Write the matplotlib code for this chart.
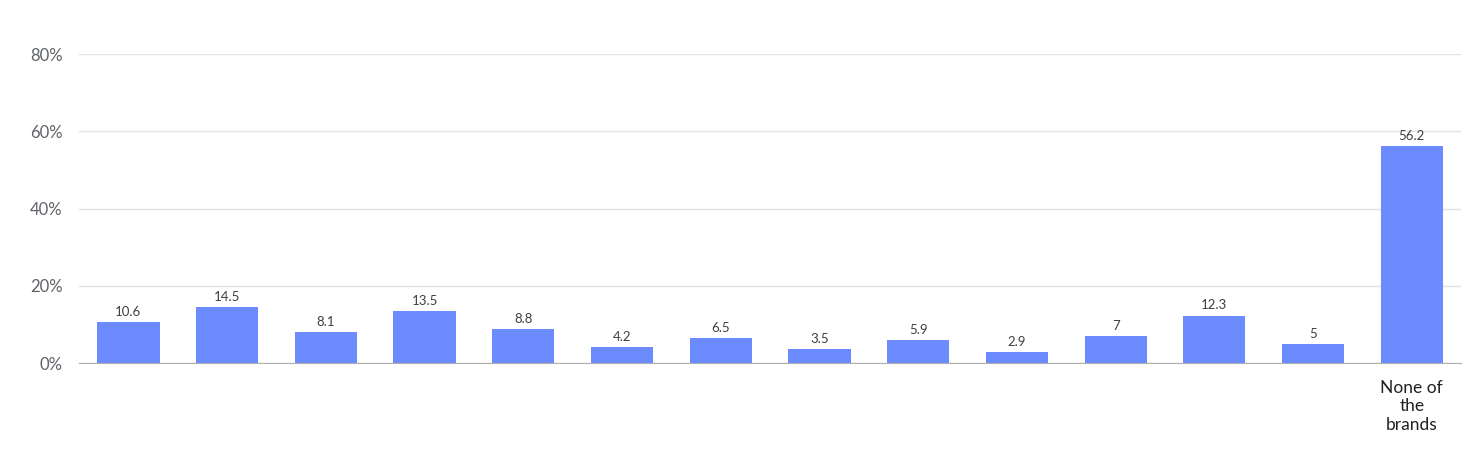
import matplotlib
matplotlib.use('Agg')
import matplotlib.pyplot as plt
from matplotlib.ticker import FuncFormatter

plt.rcParams['font.family'] = ['Lato', 'DejaVu Sans']

# brand names are redacted in the reference, only the last one is readable
brands = ['', '', '', '', '', '', '', '', '', '', '', '', '', 'None of\nthe\nbrands']
shares = [10.6, 14.5, 8.1, 13.5, 8.8, 4.2, 6.5, 3.5, 5.9, 2.9, 7, 12.3, 5, 56.2]
share_labels = ['10.6', '14.5', '8.1', '13.5', '8.8', '4.2', '6.5', '3.5', '5.9', '2.9', '7', '12.3', '5', '56.2']

fig = plt.figure(figsize=(14.67, 4.58), dpi=100)
ax = fig.add_axes([0.0539, 0.2074, 0.9421, 0.6746])

x = range(len(brands))
bars = ax.bar(x, shares, width=0.63, color='#6b8bff', zorder=3)
ax.bar_label(bars, labels=share_labels, padding=3, fontsize=9.5, color='#3c4043')

ax.set_xlim(-0.5, len(brands) - 0.5)
ax.set_ylim(0, 80)
ax.set_yticks([0, 20, 40, 60, 80])
ax.yaxis.set_major_formatter(FuncFormatter(lambda v, p: '%d%%' % v))
ax.set_xticks(list(x))
ax.set_xticklabels(brands, fontsize=12.5, color='#202124', linespacing=1.2)

ax.grid(axis='y', color='#e3e3e3', lw=1, zorder=0)
ax.tick_params(axis='both', length=0)
ax.tick_params(axis='y', labelsize=12, labelcolor='#5f6368', pad=12)
ax.tick_params(axis='x', pad=12)
for s in ['top', 'right', 'left']:
    ax.spines[s].set_visible(False)
ax.spines['bottom'].set_color('#b0b0b0')
ax.spines['bottom'].set_zorder(4)

fig.savefig('out.png', dpi=100)
